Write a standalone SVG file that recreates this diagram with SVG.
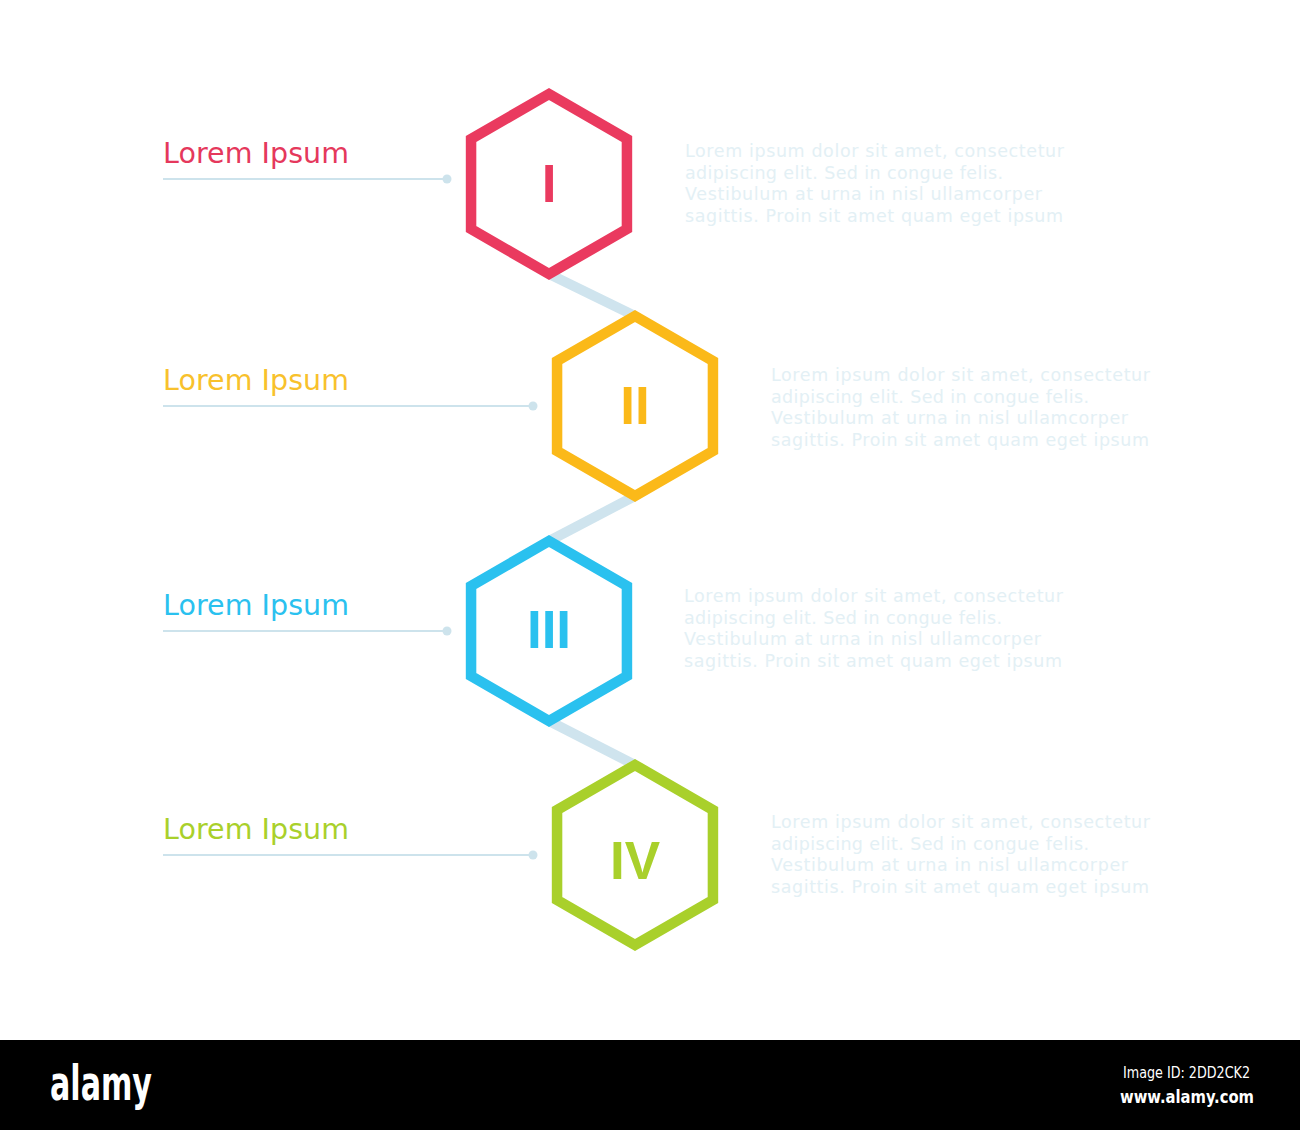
<svg xmlns="http://www.w3.org/2000/svg" width="1300" height="1130" viewBox="0 0 1300 1130">
<style>
.lbl{font-family:"DejaVu Sans","Liberation Sans",sans-serif;font-size:28.5px}
.num{font-family:"Liberation Sans",Arial,sans-serif;font-size:53px;font-weight:bold;text-anchor:middle}
.body{font-family:"DejaVu Sans","Liberation Sans",sans-serif;font-size:17.5px;fill:#e3f0f5}
.lead{stroke:#cde3ec;stroke-width:2;fill:none}
.dot{fill:#cde3ec}
.conn{stroke:#cfe4ee;stroke-width:10;fill:none}
.hex{fill:#fff;stroke-width:10.5;stroke-linejoin:miter}
</style>
<defs>
<polygon id="hx" points="0,-90 77.94,-45 77.94,45 0,90 -77.94,45 -77.94,-45"/>
</defs>
<rect width="1300" height="1130" fill="#fff"/>
<g id="connectors">
<line class="conn" x1="549" y1="274" x2="635" y2="316"/>
<line class="conn" x1="635" y1="496" x2="549" y2="541"/>
<line class="conn" x1="549" y1="721" x2="635" y2="765"/>
<line class="lead" x1="163" y1="179" x2="447" y2="179"/><circle class="dot" cx="447" cy="179" r="4.5"/>
<line class="lead" x1="163" y1="406" x2="533" y2="406"/><circle class="dot" cx="533" cy="406" r="4.5"/>
<line class="lead" x1="163" y1="631" x2="447" y2="631"/><circle class="dot" cx="447" cy="631" r="4.5"/>
<line class="lead" x1="163" y1="855" x2="533" y2="855"/><circle class="dot" cx="533" cy="855" r="4.5"/>
</g>
<g id="step1">
<use href="#hx" class="hex" x="549" y="184" stroke="#ea3a5f"/>
<text class="num" x="549" y="202" fill="#ea3a5f">I</text>
<text class="lbl" x="163" y="163" fill="#e5385c" textLength="186">Lorem Ipsum</text>
<text class="body"><tspan x="685" y="157" textLength="379">Lorem ipsum dolor sit amet, consectetur</tspan><tspan x="685" y="178.5" textLength="318">adipiscing elit. Sed in congue felis.</tspan><tspan x="685" y="200" textLength="357">Vestibulum at urna in nisl ullamcorper</tspan><tspan x="685" y="221.5" textLength="378">sagittis. Proin sit amet quam eget ipsum</tspan></text>
</g>
<g id="step2">
<use href="#hx" class="hex" x="635" y="406" stroke="#fbb919"/>
<text class="num" x="635" y="424" fill="#fbb919">II</text>
<text class="lbl" x="163" y="390" fill="#f8c12c" textLength="186">Lorem Ipsum</text>
<text class="body"><tspan x="771" y="381" textLength="379">Lorem ipsum dolor sit amet, consectetur</tspan><tspan x="771" y="402.5" textLength="318">adipiscing elit. Sed in congue felis.</tspan><tspan x="771" y="424" textLength="357">Vestibulum at urna in nisl ullamcorper</tspan><tspan x="771" y="445.5" textLength="378">sagittis. Proin sit amet quam eget ipsum</tspan></text>
</g>
<g id="step3">
<use href="#hx" class="hex" x="549" y="631" stroke="#2ac1ef"/>
<text class="num" x="549" y="648" fill="#2ac1ef">III</text>
<text class="lbl" x="163" y="615" fill="#2ac1ef" textLength="186">Lorem Ipsum</text>
<text class="body"><tspan x="684" y="602" textLength="379">Lorem ipsum dolor sit amet, consectetur</tspan><tspan x="684" y="623.5" textLength="318">adipiscing elit. Sed in congue felis.</tspan><tspan x="684" y="645" textLength="357">Vestibulum at urna in nisl ullamcorper</tspan><tspan x="684" y="666.5" textLength="378">sagittis. Proin sit amet quam eget ipsum</tspan></text>
</g>
<g id="step4">
<use href="#hx" class="hex" x="635" y="855" stroke="#a9d02b"/>
<text class="num" x="635" y="879" fill="#a9d02b">IV</text>
<text class="lbl" x="163" y="839" fill="#a9d02b" textLength="186">Lorem Ipsum</text>
<text class="body"><tspan x="771" y="828" textLength="379">Lorem ipsum dolor sit amet, consectetur</tspan><tspan x="771" y="849.5" textLength="318">adipiscing elit. Sed in congue felis.</tspan><tspan x="771" y="871" textLength="357">Vestibulum at urna in nisl ullamcorper</tspan><tspan x="771" y="892.5" textLength="378">sagittis. Proin sit amet quam eget ipsum</tspan></text>
</g>
<g id="footer">
<rect x="0" y="1040" width="1300" height="90" fill="#000"/>
<text x="50" y="1100" font-family="'DejaVu Sans Condensed','DejaVu Sans',sans-serif" font-weight="bold" font-size="48" fill="#fff" textLength="102" lengthAdjust="spacingAndGlyphs">alamy</text>
<text x="1250" y="1078" font-family="'DejaVu Sans Condensed','DejaVu Sans',sans-serif" font-size="16" fill="#fff" text-anchor="end" textLength="127" lengthAdjust="spacingAndGlyphs">Image ID: 2DD2CK2</text>
<text x="1254" y="1103" font-family="'DejaVu Sans Condensed','DejaVu Sans',sans-serif" font-weight="bold" font-size="18" fill="#fff" text-anchor="end" textLength="134" lengthAdjust="spacingAndGlyphs">www.alamy.com</text>
</g>
</svg>
